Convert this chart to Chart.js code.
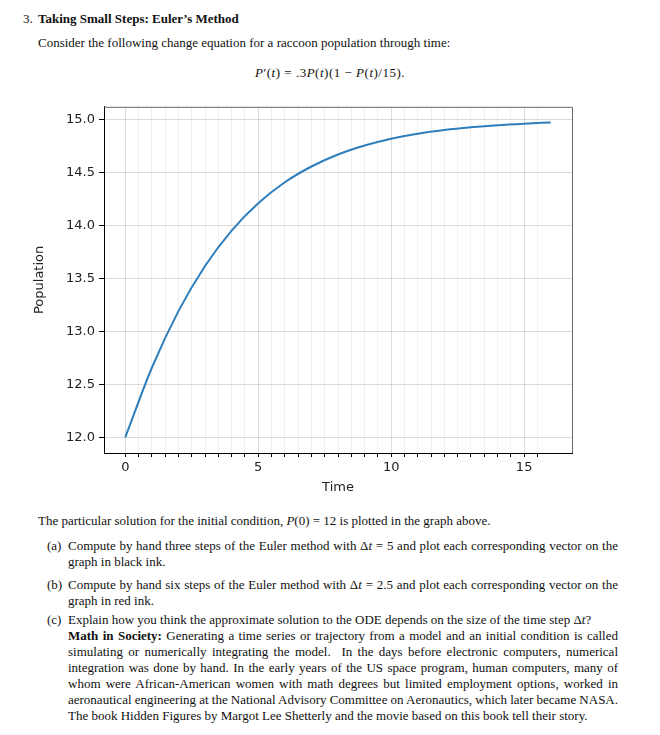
<!DOCTYPE html>
<html>
<head>
<meta charset="utf-8">
<script src="https://cdn.jsdelivr.net/npm/chart.js@4.4.1/dist/chart.umd.min.js"></script>
<style>
  body { margin: 0; background: #fff; width: 660px; height: 735px; position: relative; overflow: hidden; }
  .t { position: absolute; font-family: 'Liberation Serif', 'Times New Roman', serif; font-size: 13px; line-height: 16px; color: #111; white-space: nowrap; }
  #wrap { position: absolute; left: 0; top: 95px; width: 600px; height: 410px; }
</style>
</head>
<body>
<div class="t" style="left:23px; top:11px;">3.</div>
<div class="t" style="left:38px; top:11px;"><b>Taking Small Steps: Euler’s Method</b></div>
<div class="t" style="left:38px; top:35px;">Consider the following change equation for a raccoon population through time:</div>
<div class="t" style="left:0; width:660px; text-align:center; top:65px; letter-spacing:0.5px;"><i>P</i>′(<i>t</i>) = .3<i>P</i>(<i>t</i>)(1 − <i>P</i>(<i>t</i>)/15).</div>

<div id="wrap"><canvas id="solutionChart"></canvas></div>

<div class="t" style="left:38px; top:513px;">The particular solution for the initial condition, <i>P</i>(0) = 12 is plotted in the graph above.</div>

<div class="t" style="left:47px; top:538px;">(a)</div>
<div class="t j" style="left:68px; top:538px;">Compute by hand three steps of the Euler method with Δ<i>t</i> = 5 and plot each corresponding vector on the</div>
<div class="t" style="left:68px; top:554px;">graph in black ink.</div>

<div class="t" style="left:47px; top:577px;">(b)</div>
<div class="t j" style="left:68px; top:577px;">Compute by hand six steps of the Euler method with Δ<i>t</i> = 2.5 and plot each corresponding vector on the</div>
<div class="t" style="left:68px; top:593px;">graph in red ink.</div>

<div class="t" style="left:47px; top:612px;">(c)</div>
<div class="t" style="left:68px; top:612px;">Explain how you think the approximate solution to the ODE depends on the size of the time step Δ<i>t</i>?</div>
<div class="t j" style="left:68px; top:628px;"><b>Math in Society:</b> Generating a time series or trajectory from a model and an initial condition is called</div>
<div class="t j" style="left:68px; top:644px;">simulating or numerically integrating the model.&nbsp; In the days before electronic computers, numerical</div>
<div class="t j" style="left:68px; top:660px;">integration was done by hand. In the early years of the US space program, human computers, many of</div>
<div class="t j" style="left:68px; top:676px;">whom were African-American women with math degrees but limited employment options, worked in</div>
<div class="t j" style="left:68px; top:692px;">aeronautical engineering at the National Advisory Committee on Aeronautics, which later became NASA.</div>
<div class="t" style="left:68px; top:708px;">The book Hidden Figures by Margot Lee Shetterly and the movie based on this book tell their story.</div>

<script>
// stretch / squeeze justified lines to the text width (68 -> 618)
document.querySelectorAll('.j').forEach(el => {
  const spaces = (el.textContent.match(/[ \u00a0]/g) || []).length;
  const w = el.getBoundingClientRect().width;
  el.style.wordSpacing = ((550 - w) / spaces) + 'px';
});

// ===== Data =====
const timeValues = [0, 1, 2, 3, 4, 5, 6, 7, 8, 9, 10, 11, 12, 13, 14, 15, 16];
const population = [12.000, 12.656, 13.190, 13.616, 13.950, 14.207, 14.405, 14.554, 14.667,
                    14.752, 14.816, 14.863, 14.898, 14.924, 14.944, 14.958, 14.969];
const yTickValues = [12.0, 12.5, 13.0, 13.5, 14.0, 14.5, 15.0];
const xGridValues = [0, 0.5, 1, 1.5, 2, 2.5, 3, 3.5, 4, 4.5, 5, 5.5, 6, 6.5, 7, 7.5,
                     8, 8.5, 9, 9.5, 10, 10.5, 11, 11.5, 12, 12.5, 13, 13.5, 14, 14.5, 15, 15.5];
const xLabelValues = [0, 5, 10, 15];

const points = timeValues.map((t, i) => ({ x: t, y: population[i] }));

// top and right spines in grey
const spines = {
  id: 'spines',
  afterDraw(chart) {
    const { ctx, chartArea: a } = chart;
    ctx.save();
    ctx.strokeStyle = '#666';
    ctx.lineWidth = 1;
    ctx.beginPath();
    ctx.moveTo(a.left, a.top + 0.5);
    ctx.lineTo(a.right + 0.5, a.top + 0.5);
    ctx.lineTo(a.right + 0.5, a.bottom);
    ctx.stroke();
    ctx.restore();
  }
};

const tickFont = { family: 'DejaVu Sans', size: 13 };

const ctx = document.getElementById('solutionChart').getContext('2d');
const solutionChart = new Chart(ctx, {
  type: 'line',
  data: {
    datasets: [{
      label: 'P(t)',
      data: points,
      borderColor: '#2f7ebc',
      borderWidth: 2,
      pointRadius: 0,
      fill: false,
      cubicInterpolationMode: 'monotone'
    }]
  },
  options: {
    responsive: true,
    maintainAspectRatio: false,
    animation: false,
    layout: { padding: { top: 9, right: 28, left: 0, bottom: 0 } },
    plugins: { legend: { display: false }, tooltip: { enabled: false } },
    scales: {
      x: {
        type: 'linear',
        min: -0.8,
        max: 16.8,
        afterBuildTicks: s => { s.ticks = xGridValues.map(v => ({ value: v })); },
        afterFit: s => { s.height = 52; },
        ticks: {
          autoSkip: false,
          maxRotation: 0,
          padding: 3,
          color: '#222',
          font: tickFont,
          callback: v => xLabelValues.includes(v) ? String(v) : ''
        },
        grid: {
          color: c => xLabelValues.includes(c.tick.value) ? 'rgba(0,0,0,0.14)' : 'rgba(0,0,0,0.06)',
          tickColor: '#000',
          tickLength: 4
        },
        border: { color: '#000', width: 1 },
        title: { display: true, text: 'Time', color: '#222', font: tickFont, padding: { top: 0, bottom: 10 } }
      },
      y: {
        min: 11.852,
        max: 15.117,
        afterBuildTicks: s => { s.ticks = yTickValues.map(v => ({ value: v })); },
        afterFit: s => { s.width = 104; },
        ticks: {
          padding: 4,
          color: '#222',
          font: tickFont,
          callback: v => v.toFixed(1)
        },
        grid: { color: 'rgba(0,0,0,0.14)', tickColor: '#000', tickLength: 5 },
        border: { color: '#000', width: 1 },
        title: { display: true, text: 'Population', color: '#222', font: tickFont, padding: { top: 32, bottom: 0 } }
      }
    }
  },
  plugins: [spines]
});
</script>
</body>
</html>
